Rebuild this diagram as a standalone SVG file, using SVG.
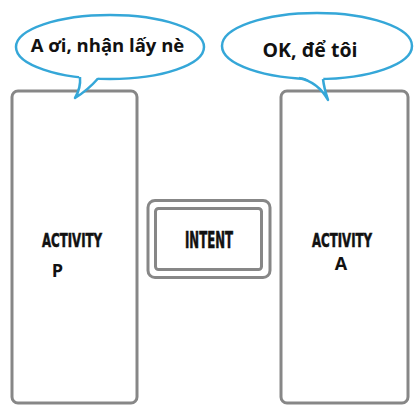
<svg xmlns="http://www.w3.org/2000/svg" width="420" height="420" viewBox="0 0 420 420">
<style>
.box{fill:#fff;stroke:#878787;stroke-width:3}
.bub{fill:#fff;stroke:#35a7d8;stroke-width:2.5}
.tailfill{fill:#fff;stroke:none}
.tail{fill:none;stroke:#35a7d8;stroke-width:2.5;stroke-linejoin:round}
.cond{font-family:"DejaVu Sans Condensed","DejaVu Sans",sans-serif;font-weight:bold;fill:#111;stroke:#111;stroke-width:0.6}
.sp{font-family:"Open Sans","Noto Sans",sans-serif;font-weight:bold;fill:#111}
</style>
<rect width="420" height="420" fill="#fff"/>
<g id="activity-p">
<rect class="box" x="12" y="91" width="125" height="312" rx="6"/>
<text class="cond" x="72" y="247" font-size="20" text-anchor="middle" textLength="60" lengthAdjust="spacingAndGlyphs">ACTIVITY</text>
<text class="sp" x="57.5" y="277" font-size="18" text-anchor="middle">P</text>
</g>
<g id="activity-a">
<rect class="box" x="281" y="91" width="127" height="312" rx="6"/>
<text class="cond" x="342" y="247" font-size="20" text-anchor="middle" textLength="60" lengthAdjust="spacingAndGlyphs">ACTIVITY</text>
<text class="sp" x="341" y="270" font-size="18" text-anchor="middle">A</text>
</g>
<g id="intent">
<rect class="box" x="148" y="200.5" width="122" height="77" rx="7"/>
<rect class="box" x="155.5" y="208.5" width="106" height="61" rx="3"/>
<text class="cond" x="209" y="248" font-size="23" text-anchor="middle" textLength="48" lengthAdjust="spacingAndGlyphs">INTENT</text>
</g>
<g id="bubble-p">
<ellipse class="bub" cx="110" cy="47" rx="94" ry="32"/>
<path class="tailfill" d="M79,74 Q81,88 75,98 Q88,90 99,76 Z"/>
<path class="tail" d="M80,77 Q81,88 75,98 Q88,90 98,78.5"/>
<text class="sp" x="107.5" y="52" font-size="18.5" text-anchor="middle">A ơi, nhận lấy nè</text>
</g>
<g id="bubble-a">
<ellipse class="bub" cx="317" cy="46" rx="95" ry="33"/>
<path class="tailfill" d="M298,75 Q318,82 328,100 Q324,88 323,76 Z"/>
<path class="tail" d="M299,78 Q318,82 328,100 Q324,88 323,79"/>
<text class="sp" x="310" y="57" font-size="19.5" text-anchor="middle">OK, để tôi</text>
</g>
<g id="connectors"></g>
</svg>
